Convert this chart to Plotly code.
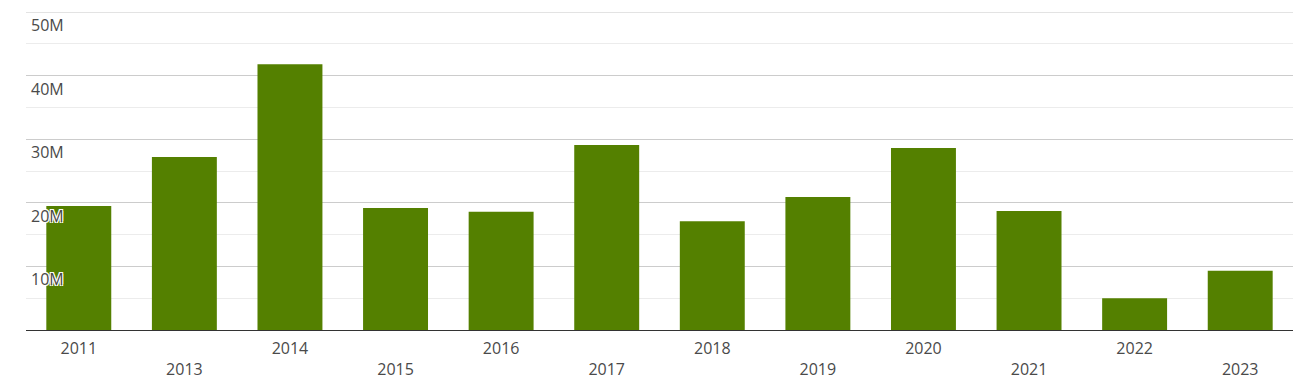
import plotly.graph_objects as go

years = ["2011", "2013", "2014", "2015", "2016", "2017", "2018", "2019", "2020", "2021", "2022", "2023"]
values = [19.5e6, 27.2e6, 41.8e6, 19.2e6, 18.6e6, 29.1e6, 17.1e6, 20.9e6, 28.6e6, 18.7e6, 5.0e6, 9.3e6]
y_ticks = [10e6, 20e6, 30e6, 40e6, 50e6]
y_labels = ["10M", "20M", "30M", "40M", "50M"]

ticktext = [y if i % 2 == 0 else "<br>" + y for i, y in enumerate(years)]

FONT = "Open Sans"
TXT = "#4a4a4a"
FS = 16

fig = go.Figure()
fig.add_trace(go.Bar(x=years, y=values, marker=dict(color="#548000", line=dict(width=0)),
                     hoverinfo="x+y"))

annotations = []
for v, lab in zip(y_ticks, y_labels):
    annotations.append(dict(
        x=0, xref="paper", y=v, yref="y", xanchor="left", yanchor="top",
        xshift=3, yshift=0, text=lab, showarrow=False,
        font=dict(family=FONT, size=FS, color=TXT,
                  shadow="1px 1px 0 white, -1px -1px 0 white, 1px -1px 0 white, -1px 1px 0 white"),
    ))

fig.add_shape(type="line", xref="paper", x0=0, x1=1, yref="y", y0=50e6, y1=50e6,
              line=dict(color="#c8c8c8", width=1), layer="below")

fig.update_layout(
    width=1293, height=384,
    margin=dict(l=26, r=0, t=12, b=54),
    plot_bgcolor="white", paper_bgcolor="white",
    showlegend=False,
    bargap=0.385,
    font=dict(family=FONT, size=FS, color=TXT),
    xaxis=dict(
        type="category", tickmode="array", tickvals=years, ticktext=ticktext,
        showgrid=False, showline=True, linecolor="#333333", linewidth=1,
        ticks="", ticklabelstandoff=4, tickfont=dict(family=FONT, size=FS, color=TXT),
    ),
    yaxis=dict(
        range=[0, 50e6], tickvals=y_ticks, showticklabels=False,
        showgrid=True, gridcolor="#cccccc", gridwidth=1,
        zeroline=False,
        minor=dict(dtick=5e6, tick0=0, showgrid=True, gridcolor="#ececec", gridwidth=1),
    ),
    annotations=annotations,
)

fig.write_html("out.html")
